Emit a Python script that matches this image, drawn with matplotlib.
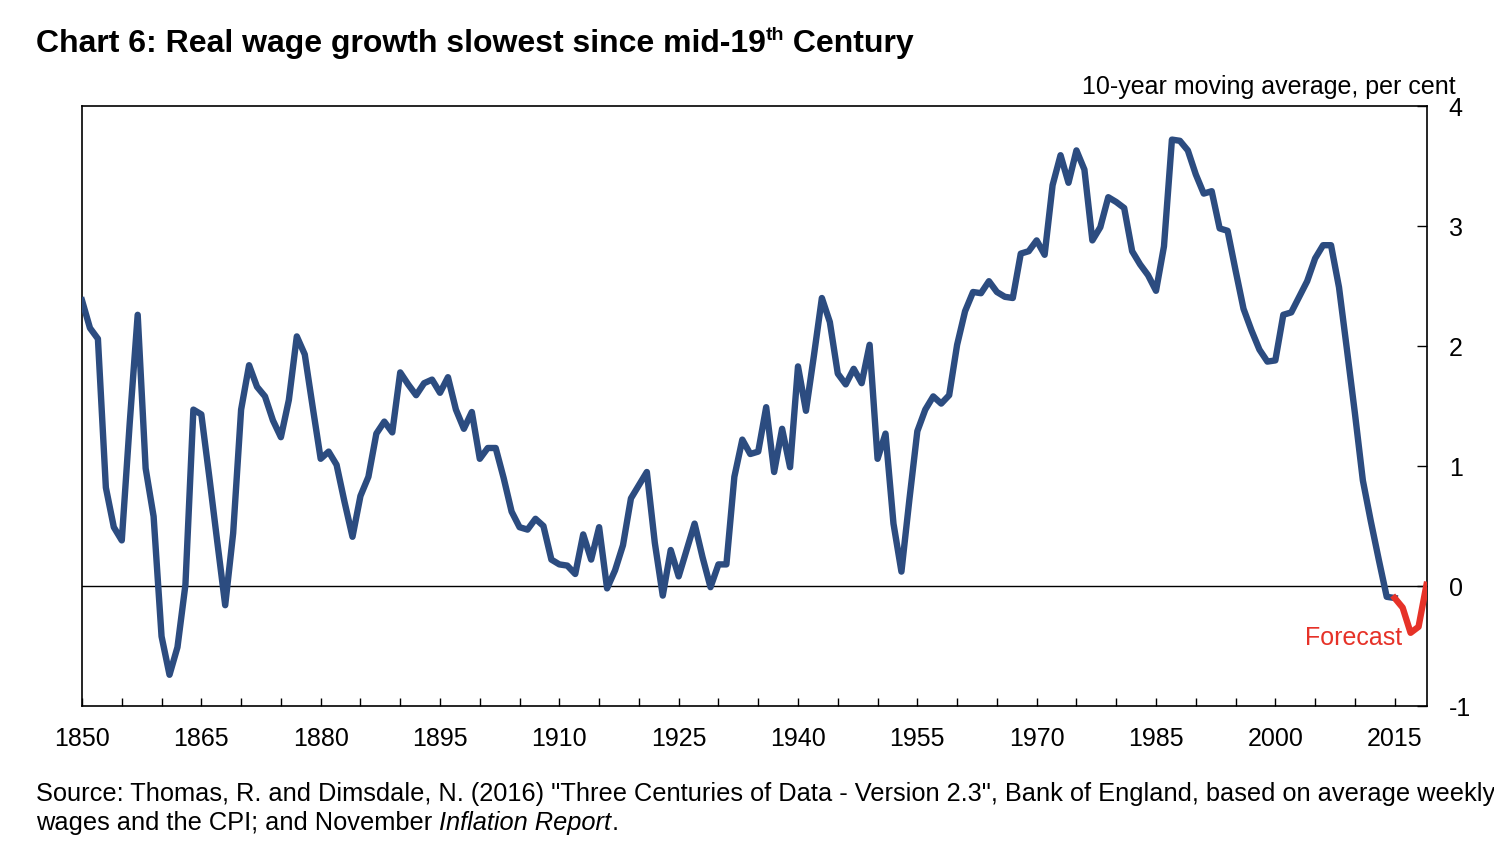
import matplotlib
matplotlib.use('Agg')
import matplotlib.pyplot as plt
from matplotlib.transforms import IdentityTransform
import numpy as np

plt.rcParams['font.family'] = ['Liberation Sans', 'DejaVu Sans']
plt.rcParams['axes.unicode_minus'] = False

# 10-year moving average of real wage growth, per cent
years = list(range(1850, 2016))
wage_growth = [
    2.38, 2.15, 2.06, 0.82, 0.49, 0.38, 1.36, 2.26, 0.98, 0.58,    # 1850s
    -0.42, -0.74, -0.51, 0.01, 1.47, 1.43, 0.91, 0.37, -0.16, 0.44,  # 1860s
    1.47, 1.84, 1.66, 1.58, 1.38, 1.24, 1.55, 2.08, 1.93, 1.49,    # 1870s
    1.06, 1.12, 1.01, 0.70, 0.41, 0.75, 0.91, 1.27, 1.37, 1.28,    # 1880s
    1.78, 1.68, 1.59, 1.69, 1.72, 1.61, 1.74, 1.47, 1.31, 1.45,    # 1890s
    1.06, 1.15, 1.15, 0.90, 0.62, 0.49, 0.47, 0.56, 0.50, 0.22,    # 1900s
    0.18, 0.17, 0.10, 0.43, 0.22, 0.49, -0.02, 0.13, 0.34, 0.73,   # 1910s
    0.84, 0.95, 0.36, -0.08, 0.30, 0.08, 0.30, 0.52, 0.24, -0.01,  # 1920s
    0.18, 0.18, 0.91, 1.22, 1.10, 1.12, 1.49, 0.95, 1.31, 0.99,    # 1930s
    1.83, 1.46, 1.92, 2.40, 2.20, 1.77, 1.68, 1.81, 1.69, 2.01,    # 1940s
    1.06, 1.27, 0.52, 0.12, 0.72, 1.29, 1.47, 1.58, 1.52, 1.59,    # 1950s
    2.01, 2.29, 2.45, 2.44, 2.54, 2.45, 2.41, 2.40, 2.77, 2.79,    # 1960s
    2.88, 2.76, 3.34, 3.59, 3.36, 3.63, 3.47, 2.88, 2.99, 3.24,    # 1970s
    3.20, 3.15, 2.79, 2.68, 2.59, 2.46, 2.83, 3.72, 3.71, 3.63,    # 1980s
    3.43, 3.27, 3.29, 2.98, 2.96, 2.63, 2.31, 2.13, 1.97, 1.87,    # 1990s
    1.88, 2.26, 2.28, 2.41, 2.54, 2.73, 2.84, 2.84, 2.49, 1.97,    # 2000s
    1.44, 0.88, 0.54, 0.22, -0.09, -0.10,                          # 2010-2015
]
forecast_years = [2015, 2016, 2017, 2018, 2019]
forecast_growth = [-0.10, -0.18, -0.39, -0.34, 0.01]

xtick_years = list(range(1850, 2016, 15))
ytick_values = [-1, 0, 1, 2, 3, 4]

blue = '#2c4c80'
red = '#e63228'

W, H = 1494, 852
fig = plt.figure(figsize=(W / 100, H / 100), dpi=100)
ax = fig.add_axes([82 / W, 1 - 706 / H, (1426.5 - 82) / W, 600 / H])

ax.axhline(0, color='black', lw=1.0, zorder=2)
ax.plot(years, wage_growth, color=blue, lw=4.6, solid_joinstyle='round', zorder=3)
ax.plot(forecast_years, forecast_growth, color=red, lw=4.6, solid_joinstyle='round', zorder=3)
ax.text(2015.9, -0.43, 'Forecast', color=red, fontsize=18, ha='right', va='center')

ax.set_xlim(1850, 2019)
ax.set_ylim(-1, 4)
ax.set_xticks(xtick_years)
ax.set_xticks(list(range(1855, 2016, 5)), minor=True)
ax.tick_params(axis='x', which='both', direction='in', length=6, width=1, labelsize=18, pad=15)
ax.yaxis.tick_right()
ax.set_yticks(ytick_values)
ax.tick_params(axis='y', direction='in', length=7, width=1, labelsize=18, pad=16)
for s in ax.spines.values():
    s.set_linewidth(1.2)

renderer = fig.canvas.get_renderer()


def advance(s, **kw):
    # width of a string including trailing spaces
    t1 = fig.text(0, 0, s + '|', transform=IdentityTransform(), **kw)
    t2 = fig.text(0, 0, '|', transform=IdentityTransform(), **kw)
    w = t1.get_window_extent(renderer).width - t2.get_window_extent(renderer).width
    t1.remove()
    t2.remove()
    return w


def draw_runs(x, y_top, runs):
    # y_top is the baseline measured from the top of the image
    y = H - y_top
    for s, kw, rise in runs:
        fig.text(x, y + rise, s, transform=IdentityTransform(), ha='left', va='baseline', **kw)
        x += advance(s, **kw)


title_kw = dict(fontsize=23, fontweight='bold')
draw_runs(36, 52, [
    ('Chart 6: Real wage growth slowest since mid-19', title_kw, 0),
    ('th', dict(fontsize=14, fontweight='bold'), 12),
    (' Century', title_kw, 0),
])

fig.text(1456, H - 94, '10-year moving average, per cent', transform=IdentityTransform(),
         ha='right', va='baseline', fontsize=18)

note_kw = dict(fontsize=18.3)
draw_runs(36, 801, [
    ('Source: Thomas, R. and Dimsdale, N. (2016) "Three Centuries of Data - Version 2.3", '
     'Bank of England, based on average weekly', note_kw, 0),
])
draw_runs(36, 830, [
    ('wages and the CPI; and November ', note_kw, 0),
    ('Inflation Report', dict(fontsize=18.3, style='italic'), 0),
    ('.', note_kw, 0),
])

fig.savefig('out.png', dpi=100)
